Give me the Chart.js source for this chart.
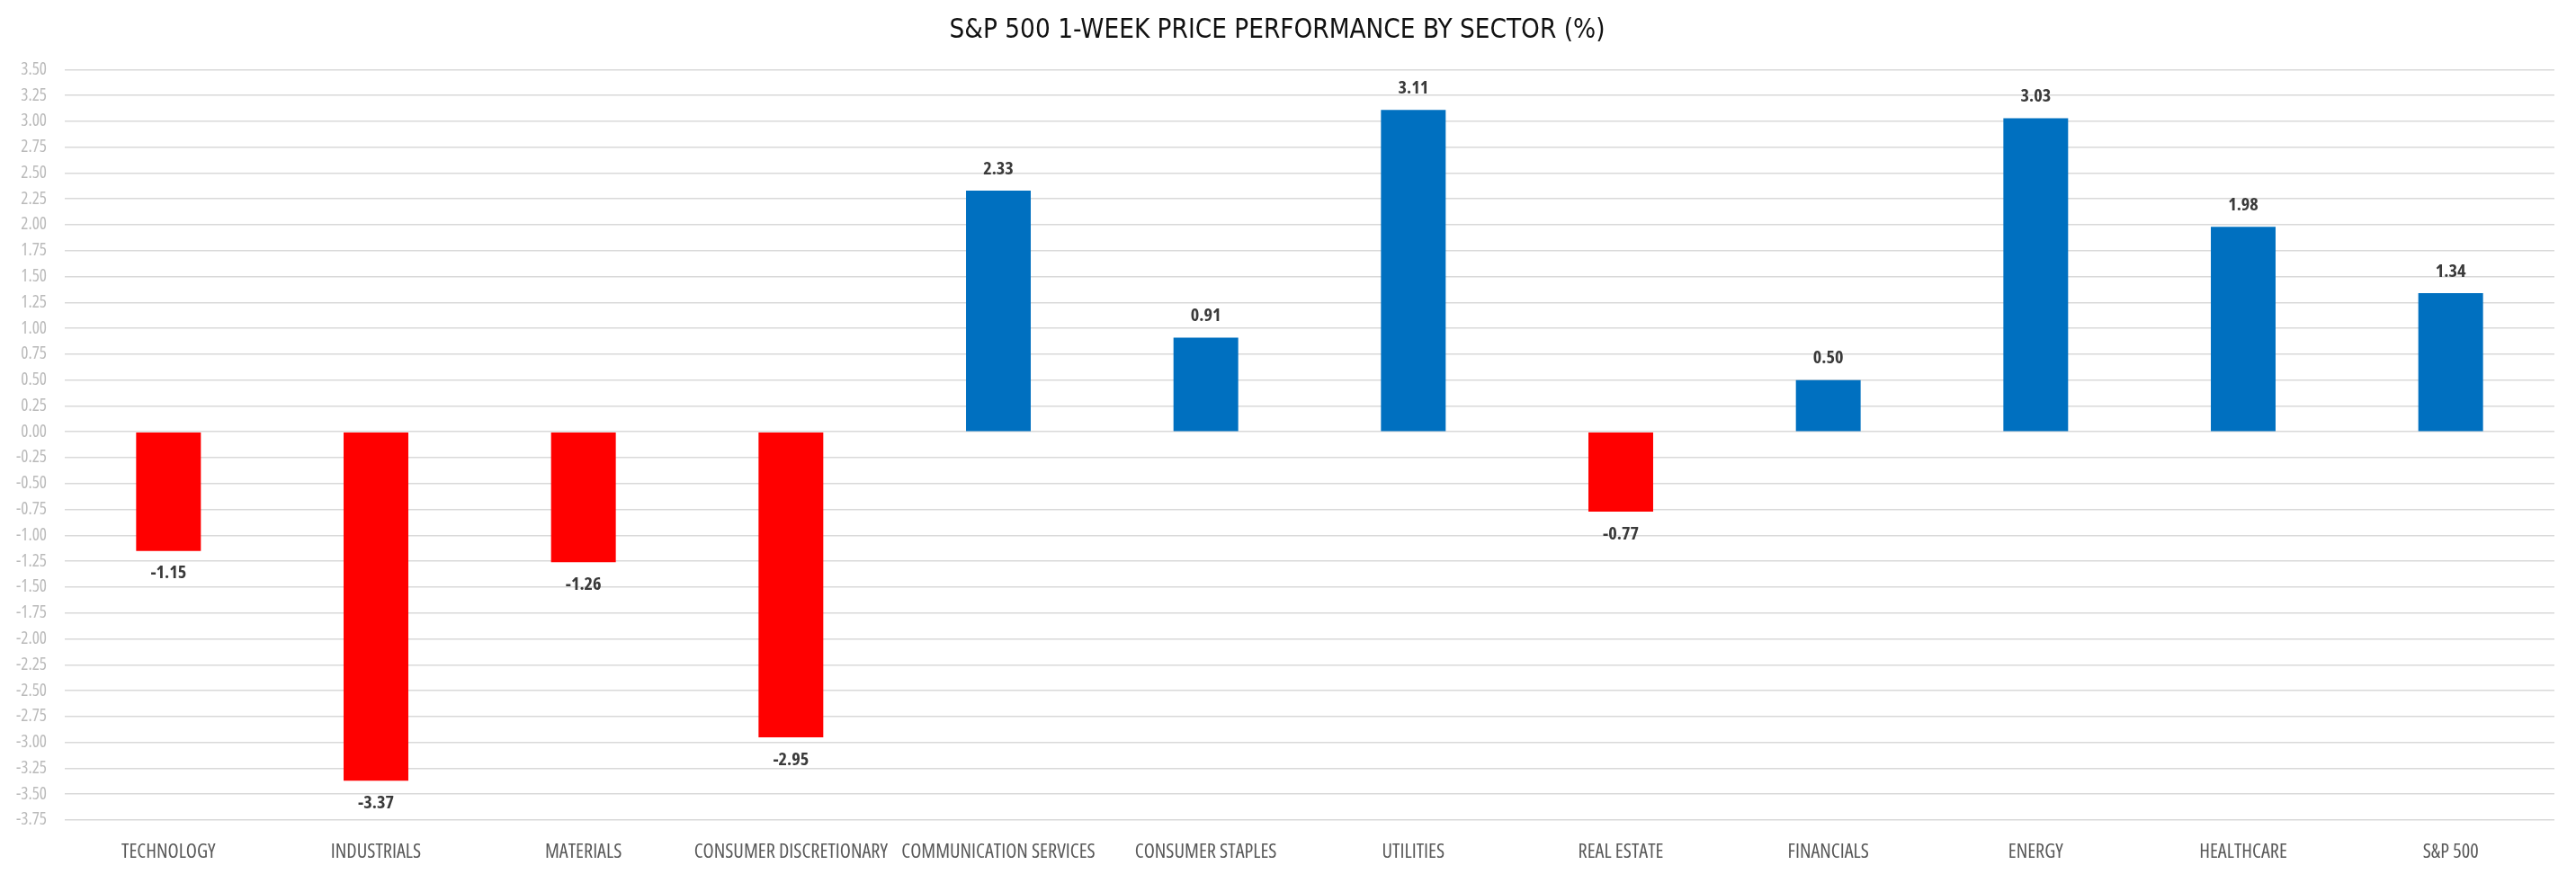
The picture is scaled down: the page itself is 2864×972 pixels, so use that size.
<!DOCTYPE html>
<html><head><meta charset="utf-8">
<script src="https://cdn.jsdelivr.net/npm/chart.js@4/dist/chart.umd.min.js"></script>
<style>html,body{margin:0;padding:0;background:#fff}</style>
</head><body>
<canvas id="c" width="2864" height="972" style="width:2864px;height:972px;display:block"></canvas>
<script>
const titleText = 'S&P 500 1-WEEK PRICE PERFORMANCE BY SECTOR (%)';
const categories = ['TECHNOLOGY','INDUSTRIALS','MATERIALS','CONSUMER DISCRETIONARY','COMMUNICATION SERVICES','CONSUMER STAPLES','UTILITIES','REAL ESTATE','FINANCIALS','ENERGY','HEALTHCARE','S&P 500'];
const values = [-1.15, -3.37, -1.26, -2.95, 2.33, 0.91, 3.11, -0.77, 0.50, 3.03, 1.98, 1.34];
const yMin = -3.75;
const yMax = 3.5;
const yStep = 0.25;

const RED = '#FF0000', BLUE = '#0070C0';

// ---- pick the most condensed installed font ----
const mctx = document.createElement('canvas').getContext('2d');
function mw(font, txt) { mctx.font = font; return mctx.measureText(txt).width; }
const probe = 'TECHNOLOGY CONSUMER 0123456789';
const candidates = [
  { fam: '"Liberation Sans Narrow"', st: '' },
  { fam: '"Roboto Condensed"', st: '' },
  { fam: '"Open Sans"', st: 'condensed' },
  { fam: '"Noto Sans"', st: 'condensed' },
  { fam: 'Roboto', st: 'condensed' },
  { fam: '"Liberation Sans"', st: 'condensed' },
  { fam: '"DejaVu Sans Condensed"', st: '' },
  { fam: '"DejaVu Sans"', st: 'condensed' }
];
let best = { fam: '"DejaVu Sans Condensed"', st: '', w: Infinity };
candidates.forEach(c => {
  const a = mw(`${c.st} 40px ${c.fam}, monospace`, probe);
  const b = mw(`${c.st} 40px ${c.fam}, serif`, probe);
  if (Math.abs(a - b) < 0.01) {
    const w = a;
    if (w < best.w - 0.5) best = { fam: c.fam, st: c.st, w };
  }
});
const FAM = best.fam + ', "DejaVu Sans Condensed", sans-serif';
function fitSize(txt, target, weight, maxSize) {
  const w = mw(`${weight} ${best.st} 40px ${FAM}`, txt);
  return Math.min(maxSize, Math.round(40 * target / w * 10) / 10);
}
const xSize = fitSize('CONSUMER DISCRETIONARY', 215, 'normal', 23);
const ySize = fitSize('-3.75', 34, 'normal', 24);
const dSize = fitSize('-3.37', 40, 'bold', 26);
const TFAM = '"DejaVu Sans Condensed", "DejaVu Sans", sans-serif';
const tW = mw(`normal 40px ${TFAM}`, titleText);
const tSize = Math.min(31, Math.round(40 * 728 / tW * 10) / 10);
const STW = (w) => (w + ' ' + best.st).trim();

const labelPlugin = {
  id: 'valLabels',
  afterDatasetsDraw(chart) {
    const ctx = chart.ctx;
    const meta = chart.getDatasetMeta(0);
    ctx.save();
    ctx.font = `bold ${best.st} ${dSize}px ${FAM}`;
    ctx.fillStyle = '#3a3a3a';
    ctx.textAlign = 'center';
    ctx.textBaseline = 'middle';
    meta.data.forEach((bar, i) => {
      const v = values[i];
      const y = v >= 0 ? bar.y - 24 : bar.y + 25;
      ctx.fillText(v.toFixed(2), bar.x, y);
    });
    ctx.restore();
  }
};

new Chart(document.getElementById('c'), {
  type: 'bar',
  data: {
    labels: categories,
    datasets: [{
      data: values,
      backgroundColor: values.map(v => v < 0 ? RED : BLUE),
      barPercentage: 0.312,
      categoryPercentage: 1
    }]
  },
  options: {
    responsive: false,
    devicePixelRatio: 1,
    animation: false,
    layout: { padding: { left: 0, right: 24, top: 0, bottom: 14 } },
    plugins: {
      legend: { display: false },
      tooltip: { enabled: false },
      title: {
        display: true,
        text: titleText,
        color: '#111',
        font: { family: TFAM, size: tSize, weight: 'normal' },
        padding: { top: 17, bottom: 25 }
      }
    },
    scales: {
      x: {
        grid: { display: false, drawTicks: false },
        border: { display: false },
        ticks: {
          color: '#595959',
          font: { family: FAM, size: xSize, weight: STW('normal') },
          padding: 22,
          maxRotation: 0,
          minRotation: 0,
          autoSkip: false
        },
        afterFit: s => { s.height = 46; }
      },
      y: {
        min: yMin,
        max: yMax,
        grid: { color: '#d9d9d9', lineWidth: 1.5, drawTicks: false },
        border: { display: false },
        ticks: {
          stepSize: yStep,
          color: '#bababa',
          font: { family: FAM, size: ySize, weight: STW('normal') },
          padding: 20,
          callback: v => Number(v).toFixed(2)
        },
        afterFit: s => { s.width = 72; }
      }
    }
  },
  plugins: [labelPlugin]
});
</script>
</body></html>
